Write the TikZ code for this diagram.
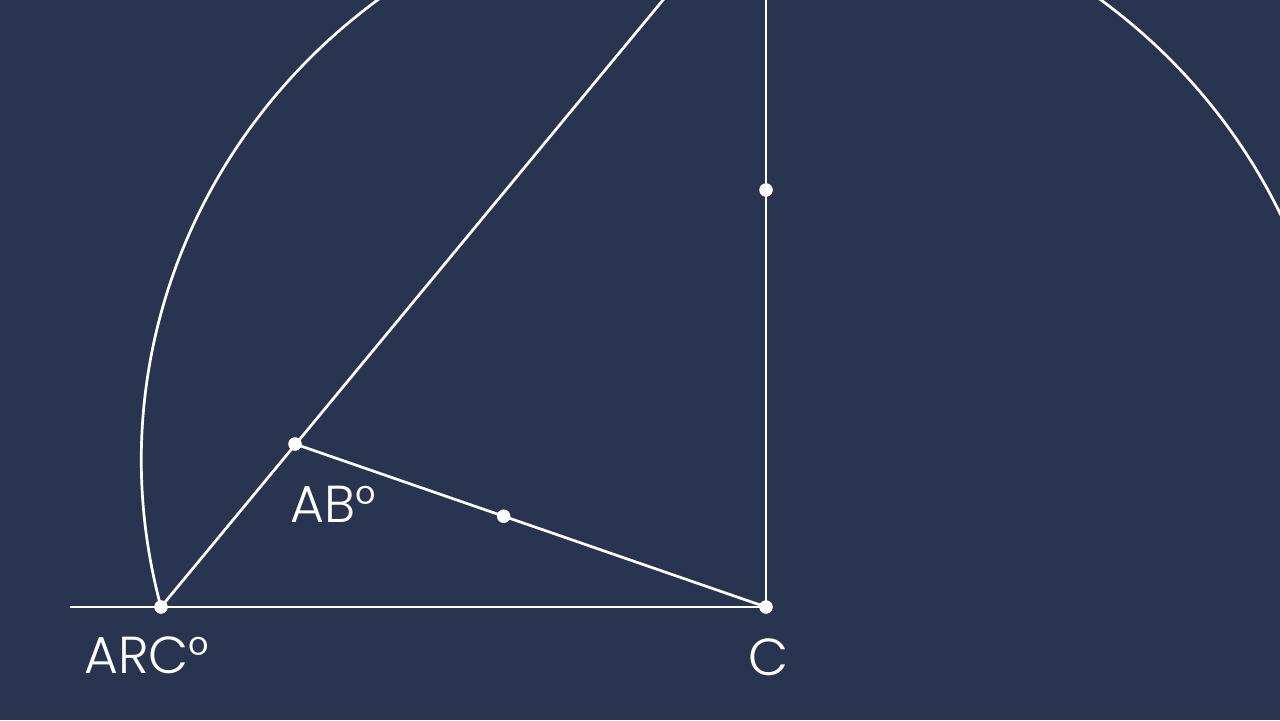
\documentclass[tikz,border=0pt]{standalone}
\usepackage{fontspec}
\setmainfont{Poppins}[UprightFont={* Light}]
\usetikzlibrary{calc}
\definecolor{bgnavy}{RGB}{41,52,80}
\tikzset{
  geo/.style={draw=white, line width=1.35pt},
  dot/.style={circle, fill=white, inner sep=0pt, minimum size=6.6pt},
  lbl/.style={text=white, inner sep=0pt, anchor=base west, font=\fontsize{26}{30}\selectfont}
}
\begin{document}
\begin{tikzpicture}[x=0.5pt, y=0.5pt]
\useasboundingbox (0,0) rectangle (1280,720);
\fill[bgnavy] (0,0) rectangle (1280,720);
\clip (0,0) rectangle (1280,720);
% points
\coordinate (L) at (70,113);
\coordinate (Ctop) at (766,740);
\coordinate (Far) at (663,720);
\node[dot] (ARC) at (161,113) {};
\node[dot] (C) at (766,113) {};
\node[dot] (AB) at (295,276) {};
\node[dot] (M) at ($(AB.center)!0.443!(C.center)$) {};
\node[dot] (V) at (766,530) {};
% lines
\draw[geo] (ARC.center) arc[start angle=194.7, end angle=-5, x radius=598, y radius=578];
\draw[geo] (L) -- (C.center);
\draw[geo] (C.center) -- (Ctop);
\draw[geo] (ARC.center) -- ($(ARC.center)!1.2!(Far)$);
\draw[geo] (AB.center) -- (C.center);
% redraw dots on top
\foreach \p in {ARC,C,AB,M,V} \fill[white] (\p) circle[radius=6.6];
% labels
\node[lbl] (tARC) at (84,47) {ARC°};
\node[lbl] (tAB) at (290,198) {AB°};
\node[lbl] (tC) at (748,45) {C};
\end{tikzpicture}
\end{document}
